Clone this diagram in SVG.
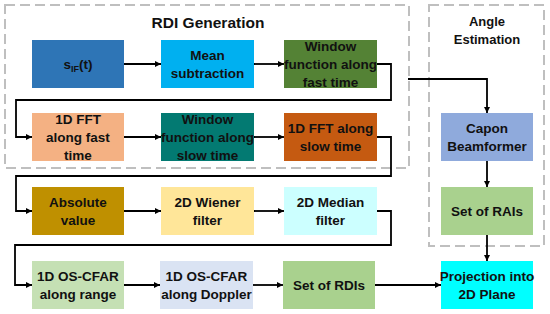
<svg xmlns="http://www.w3.org/2000/svg" width="550" height="314" viewBox="0 0 550 314">
<defs>
<marker id="ah" viewBox="0 0 10 10" refX="10" refY="5" markerWidth="6" markerHeight="6" markerUnits="userSpaceOnUse" orient="auto">
<path d="M0,0 L10,5 L0,10 z" fill="#000"/>
</marker>
<style>
.grp{fill:none;stroke:#BFBFBF;stroke-width:2;stroke-dasharray:10,5}
.t{font-family:"Liberation Sans",Arial,sans-serif;font-weight:bold;font-size:13.5px;fill:#111;text-anchor:middle}
.h{font-family:"Liberation Sans",Arial,sans-serif;font-weight:bold;text-anchor:middle;fill:#111}
.c{fill:none;stroke:#000;stroke-width:1.8}
.ca{fill:none;stroke:#000;stroke-width:1.8;marker-end:url(#ah)}
</style>
</defs>
<rect width="550" height="314" fill="#fff"/>
<g id="groups">
<rect class="grp" x="5" y="5" width="404" height="163"/>
<text class="h" x="208" y="28" font-size="15.5px">RDI Generation</text>
<rect class="grp" x="429" y="5" width="115" height="241"/>
<text class="h" x="487" y="26" font-size="13px">Angle</text>
<text class="h" x="487" y="44" font-size="13px">Estimation</text>
</g>
<g id="connectors">
<path class="ca" d="M124,64 H161"/>
<path class="ca" d="M254,64 H284"/>
<path class="ca" d="M377,64 H391 V100 H16 V137 H32"/>
<path class="ca" d="M124,137 H161"/>
<path class="ca" d="M254,137 H284"/>
<path class="ca" d="M377,137 H391 V176 H16 V211 H32"/>
<path class="ca" d="M124,211 H161"/>
<path class="ca" d="M254,211 H284"/>
<path class="ca" d="M377,211 H391 V245 H15 V285 H32"/>
<path class="ca" d="M124,285 H160"/>
<path class="ca" d="M253,285 H283"/>
<path class="ca" d="M375,285 H441"/>
<path class="ca" d="M408,79 H487 V113"/>
<path class="ca" d="M487,161 V187"/>
<path class="ca" d="M487,235 V261"/>
</g>
<g id="n1"><rect x="32" y="40" width="92" height="48" fill="#2E75B6"/>
<text class="t" x="78" y="69">s<tspan font-size="9px" dy="3">IF</tspan><tspan dy="-3">(t)</tspan></text></g>
<g id="n2"><rect x="161" y="40" width="93" height="48" fill="#00B0F0"/>
<text class="t" x="207.5" y="59.5">Mean</text><text class="t" x="207.5" y="77.5">subtraction</text></g>
<g id="n3"><rect x="284" y="40" width="93" height="48" fill="#548235"/>
<text class="t" x="330.5" y="51">Window</text><text class="t" x="330.5" y="69">function along</text><text class="t" x="330.5" y="87">fast time</text></g>
<g id="n4"><rect x="32" y="113" width="92" height="48" fill="#F4B183"/>
<text class="t" x="78" y="124">1D FFT</text><text class="t" x="78" y="142">along fast</text><text class="t" x="78" y="160">time</text></g>
<g id="n5"><rect x="161" y="113" width="93" height="48" fill="#037A72"/>
<text class="t" x="207.5" y="124">Window</text><text class="t" x="207.5" y="142">function along</text><text class="t" x="207.5" y="160">slow time</text></g>
<g id="n6"><rect x="284" y="113" width="93" height="48" fill="#C55A11"/>
<text class="t" x="330.5" y="132.5">1D FFT along</text><text class="t" x="330.5" y="150.5">slow time</text></g>
<g id="n7"><rect x="32" y="187" width="92" height="48" fill="#BF9000"/>
<text class="t" x="78" y="206.5">Absolute</text><text class="t" x="78" y="224.5">value</text></g>
<g id="n8"><rect x="161" y="187" width="93" height="48" fill="#FFE699"/>
<text class="t" x="207.5" y="206.5">2D Wiener</text><text class="t" x="207.5" y="224.5">filter</text></g>
<g id="n9"><rect x="284" y="187" width="93" height="48" fill="#CCFFFF"/>
<text class="t" x="330.5" y="206.5">2D Median</text><text class="t" x="330.5" y="224.5">filter</text></g>
<g id="n10"><rect x="32" y="261" width="92" height="48" fill="#C5E0B4"/>
<text class="t" x="78" y="280.5">1D OS-CFAR</text><text class="t" x="78" y="298.5">along range</text></g>
<g id="n11"><rect x="160" y="261" width="93" height="48" fill="#DAE3F3"/>
<text class="t" x="206.5" y="280.5">1D OS-CFAR</text><text class="t" x="206.5" y="298.5">along Doppler</text></g>
<g id="n12"><rect x="283" y="261" width="92" height="48" fill="#A9D18E"/>
<text class="t" x="329" y="289.5">Set of RDIs</text></g>
<g id="n13"><rect x="441" y="113" width="92" height="48" fill="#8FAADC"/>
<text class="t" x="487" y="132.5">Capon</text><text class="t" x="487" y="150.5">Beamformer</text></g>
<g id="n14"><rect x="441" y="187" width="92" height="48" fill="#A9D18E"/>
<text class="t" x="487" y="215.5">Set of RAIs</text></g>
<g id="n15"><rect x="441" y="261" width="92" height="48" fill="#00FFFF"/>
<text class="t" x="487" y="280.5" font-size="13px">Projection into</text><text class="t" x="487" y="298.5">2D Plane</text></g>
</svg>
